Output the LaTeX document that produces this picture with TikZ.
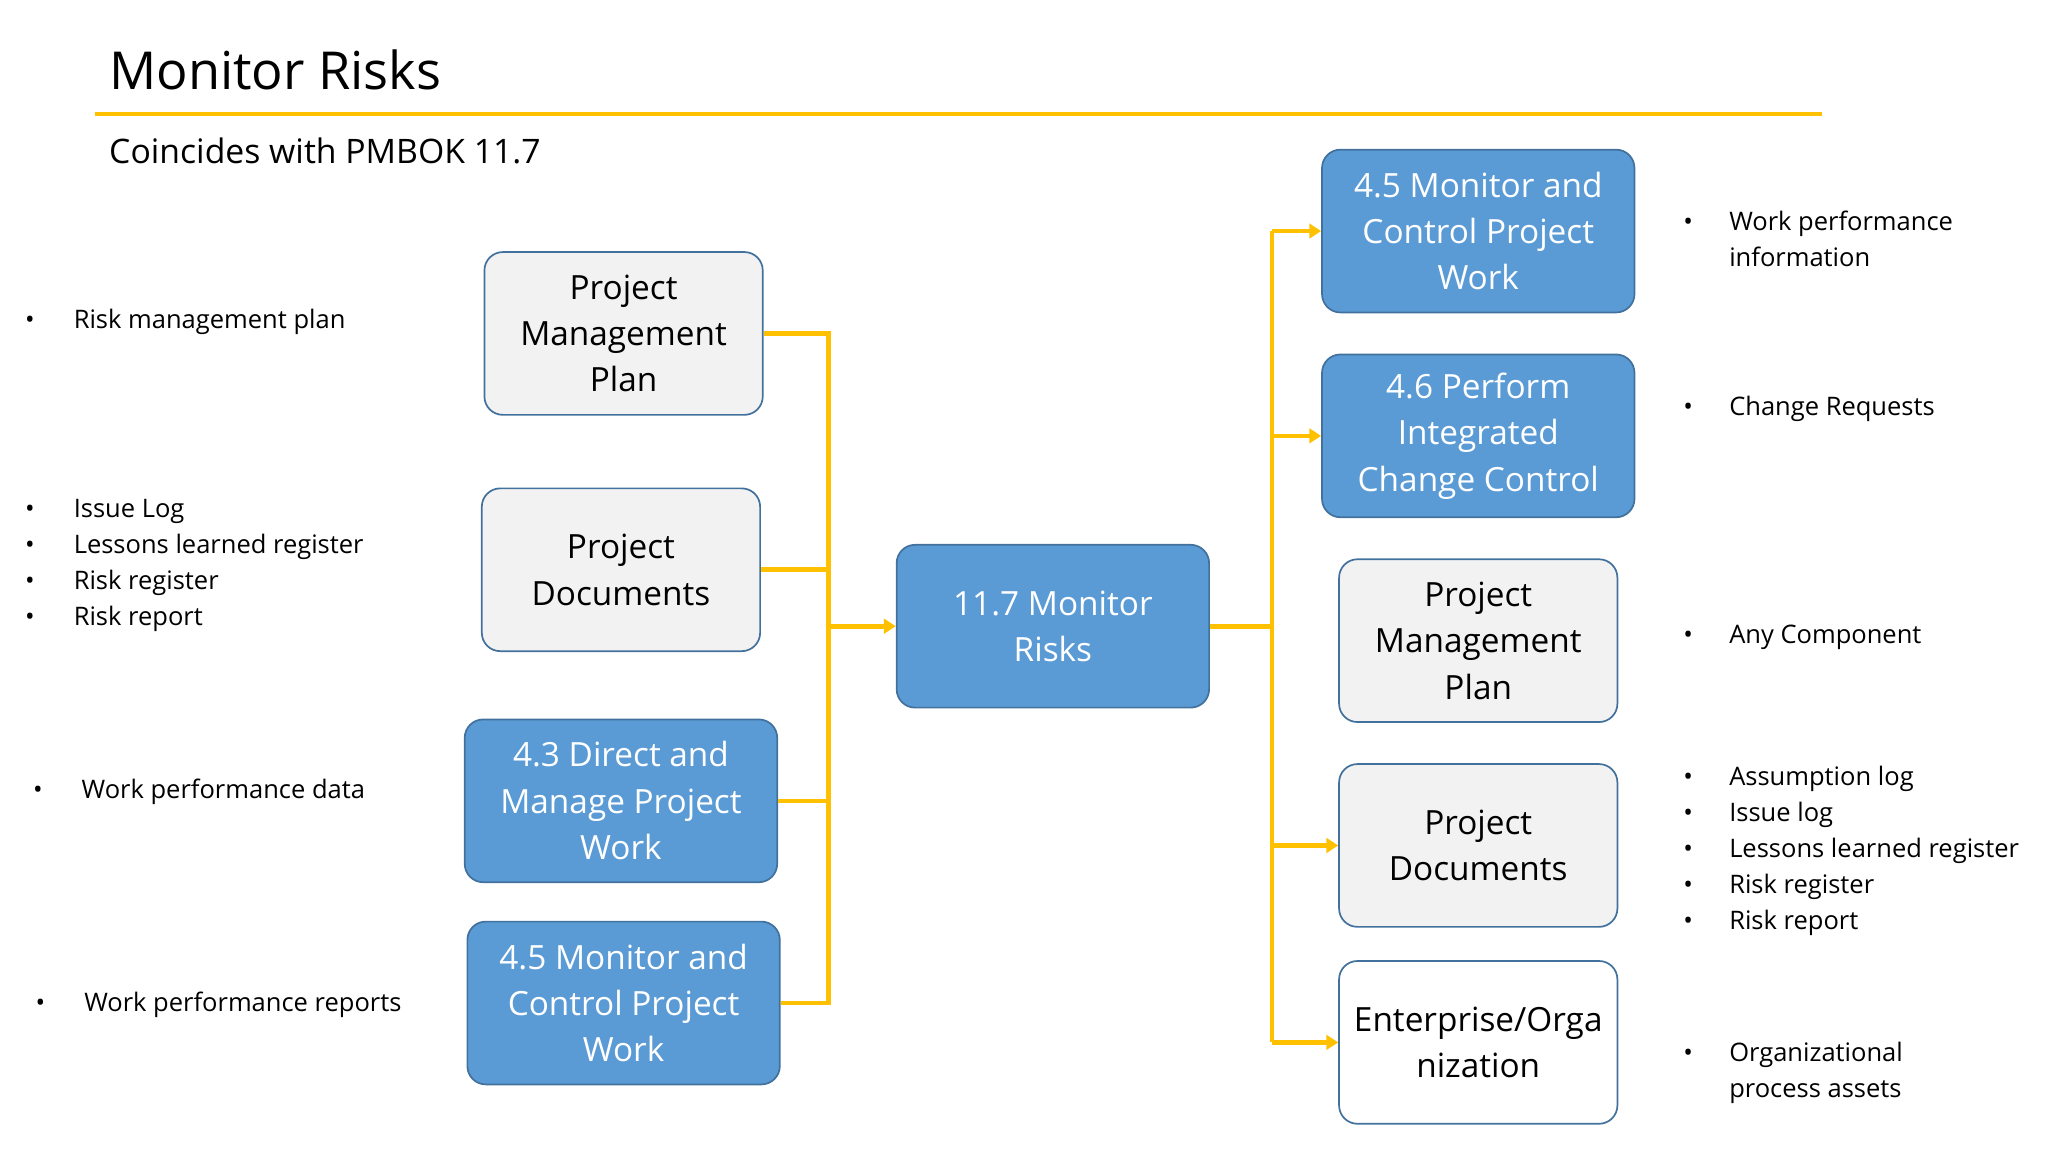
\documentclass[tikz,border=0pt]{standalone}
\usepackage{fontspec}
\setmainfont{Open Sans}
\usetikzlibrary{arrows.meta}
\definecolor{yel}{HTML}{FFC000}
\definecolor{bfill}{HTML}{5B9BD5}
\definecolor{bdraw}{HTML}{41719C}
\definecolor{gfill}{HTML}{F2F2F2}
\begin{document}
\begin{tikzpicture}[x=1bp,y=-1bp,
 box/.style={draw=bdraw,line width=1.3bp,rounded corners=14bp,minimum width=#1,minimum height=124bp,align=center,font=\fontsize{25.5}{35.5}\selectfont,inner sep=2pt},
 gbox/.style={box=#1,fill=gfill,text=black},
 wbox/.style={box=#1,fill=white,text=black},
 bbox/.style={box=#1,fill=bfill,text=white},
 con/.style={draw=yel,line width=3.5bp},
 arr/.style={con,-{Triangle[length=9bp,width=11bp]}},
 lst/.style={anchor=north west,inner sep=0pt,font=\fontsize{19.5}{27.5}\selectfont,align=left}]
\useasboundingbox (0,0) rectangle (1560,877.5);
\node[anchor=west,inner sep=0pt,font=\fontsize{40}{46}\selectfont] (title) at (83,53) {Monitor Risks};
\draw[yel,line width=3bp] (72,87) coordinate(l1) -- (1388,87) coordinate(l2);
\node[anchor=west,inner sep=0pt,font=\fontsize{25.8}{30}\selectfont] (sub) at (83,115) {Coincides with PMBOK 11.7};

\node[gbox=212bp] (pmp) at (475,254) {Project\\Management\\Plan};
\node[gbox=212bp] (pd) at (473,434) {Project\\Documents};
\node[bbox=238bp] (d43) at (473,610) {4.3 Direct and\\Manage Project\\Work};
\node[bbox=238bp] (m45) at (475,764) {4.5 Monitor and\\Control Project\\Work};
\node[bbox=238bp] (mr) at (802,477) {11.7 Monitor\\Risks};
\node[bbox=238bp] (r45) at (1126,176) {4.5 Monitor and\\Control Project\\Work};
\node[bbox=238bp] (r46) at (1126,332) {4.6 Perform\\Integrated\\Change Control};
\node[gbox=212bp] (rpmp) at (1126,488) {Project\\Management\\Plan};
\node[gbox=212bp] (rpd) at (1126,644) {Project\\Documents};
\node[wbox=212bp] (ent) at (1126,794) {Enterprise/Orga\\nization};

\coordinate (jl) at (631,477);
\draw[con] (pmp.east) -| (631,764) -- (m45.east);
\draw[con] (pd.east) -- (pd.east -| jl);
\draw[con] (d43.east) -- (d43.east -| jl);
\draw[arr] (jl) -- (mr.west);
\coordinate (jr) at (969,477);
\draw[con] (mr.east) -- (jr);
\draw[con] (969,176) -- (969,794);
\draw[arr] (969,176) -- (r45.west);
\draw[arr] (969,332) -- (r46.west);
\draw[arr] (969,644) -- (rpd.west);
\draw[arr] (969,794) -- (ent.west);

\newcommand{\bl}[1]{\begin{tabular}{@{}p{37bp}@{}l@{}}#1\end{tabular}}
\newcommand{\br}[1]{\begin{tabular}{@{}p{35bp}@{}l@{}}#1\end{tabular}}
\node[lst] (a) at (19,231) {\bl{•&Risk management plan}};
\node[lst] (b) at (19,375) {\bl{•&Issue Log\\•&Lessons learned register\\•&Risk register\\•&Risk report}};
\node[lst] (c) at (25,589) {\bl{•&Work performance data}};
\node[lst] (d) at (27,751) {\bl{•&Work performance reports}};
\node[lst] (e) at (1282,156) {\br{•&Work performance\\&information}};
\node[lst] (f) at (1282,297) {\br{•&Change Requests}};
\node[lst] (g) at (1282,471) {\br{•&Any Component}};
\node[lst] (h) at (1282,579) {\br{•&Assumption log\\•&Issue log\\•&Lessons learned register\\•&Risk register\\•&Risk report}};
\node[lst] (i) at (1282,789) {\br{•&Organizational\\&process assets}};
\end{tikzpicture}
\end{document}
